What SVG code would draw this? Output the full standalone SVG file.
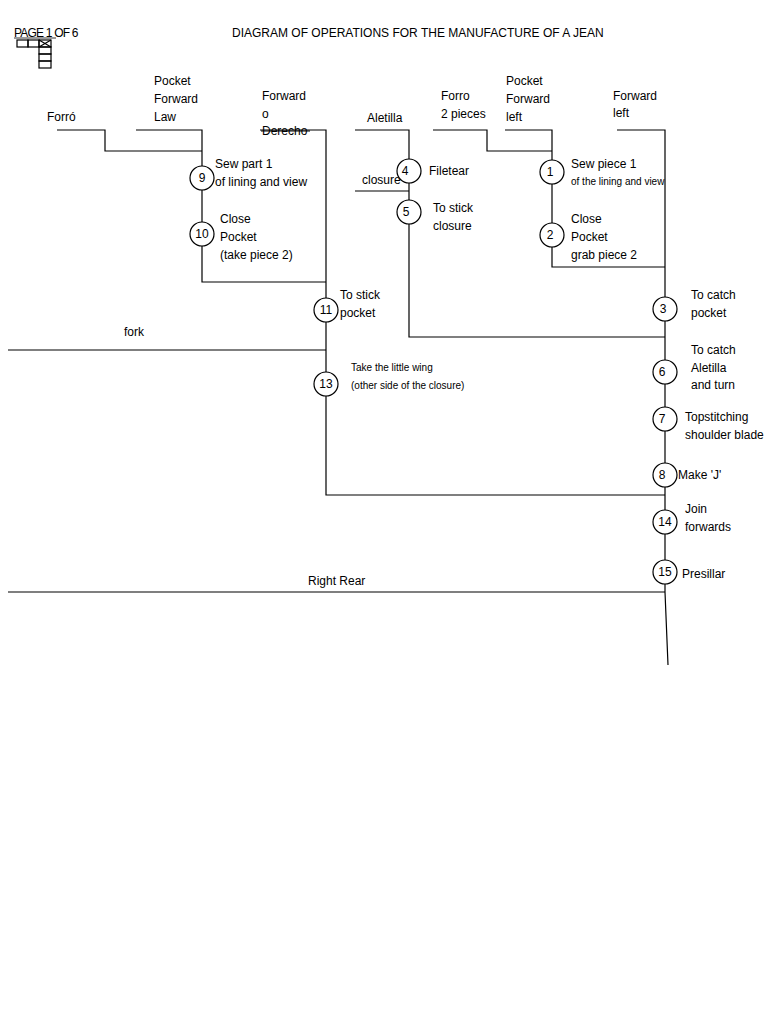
<svg xmlns="http://www.w3.org/2000/svg" width="768" height="1024" viewBox="0 0 768 1024">
<style>
text{font-family:"Liberation Sans",Arial,sans-serif;font-size:12px;fill:#000}
.s{font-size:10px}
.l{fill:none;stroke:#000;stroke-width:1.2}
circle{fill:#fff;stroke:#000;stroke-width:1.2}
.n{text-anchor:middle;font-size:12px}
</style>
<rect width="768" height="1024" fill="#fff"/>
<text x="14" y="37" style="font-size:12px;letter-spacing:-0.8px">PAGE 1 OF 6</text>
<line x1="14" y1="38" x2="56" y2="38" stroke="#000" stroke-width="0.8"/>
<text x="232" y="37">DIAGRAM OF OPERATIONS FOR THE MANUFACTURE OF A JEAN</text>
<g class="l" stroke-width="1">
<rect x="17" y="40" width="11" height="7"/><rect x="28" y="40" width="11" height="7"/><rect x="39" y="40" width="12" height="7"/>
<path d="M39 40L51 47M51 40L39 47"/>
<rect x="39" y="47" width="12" height="7"/><rect x="39" y="54" width="12" height="7"/><rect x="39" y="61" width="12" height="7"/>
</g>
<g id="connectors" class="l">
<path d="M57 130H105V151H202"/>
<path d="M136 130H202V282H326"/>
<path d="M260 130H326V495H665"/>
<path d="M8 350H326"/>
<path d="M355 130H409V337H665"/>
<path d="M355 191H409"/>
<path d="M433 130H487V151H552"/>
<path d="M505 130H552V267H665"/>
<path d="M617 130H665V592L668 665"/>
<path d="M8 592H665"/>
</g>
<g id="labels">
<text x="47" y="121">Forró</text>
<text x="154" y="85">Pocket</text><text x="154" y="103">Forward</text><text x="154" y="121">Law</text>
<text x="262" y="100">Forward</text><text x="262" y="118">o</text><text x="262" y="135">Derecho</text>
<line x1="261" y1="131" x2="310" y2="131" stroke="#000" stroke-width="1"/>
<text x="367" y="122">Aletilla</text>
<text x="441" y="100">Forro</text><text x="441" y="118">2 pieces</text>
<text x="506" y="85">Pocket</text><text x="506" y="103">Forward</text><text x="506" y="121">left</text>
<text x="613" y="100">Forward</text><text x="613" y="117">left</text>
<text x="124" y="336">fork</text>
<text x="308" y="585">Right Rear</text>
</g>
<g id="n9"><circle cx="202" cy="178" r="12"/><text class="n" x="202" y="182">9</text><text x="215" y="168">Sew part 1</text><text x="215" y="186">of lining and view</text></g>
<g id="n10"><circle cx="202" cy="234" r="12"/><text class="n" x="202" y="238">10</text><text x="220" y="223">Close</text><text x="220" y="241">Pocket</text><text x="220" y="259">(take piece 2)</text></g>
<g id="n11"><circle cx="326" cy="310" r="12"/><text class="n" x="326" y="314">11</text><text x="340" y="299">To stick</text><text x="340" y="317">pocket</text></g>
<g id="n13"><circle cx="326" cy="384" r="12"/><text class="n" x="326" y="388">13</text><text class="s" x="351" y="371">Take the little wing</text><text class="s" x="351" y="389">(other side of the closure)</text></g>
<g id="n4"><text x="362" y="184">closure</text><circle cx="409" cy="171" r="12"/><text class="n" x="405" y="175">4</text><text x="429" y="175">Filetear</text></g>
<g id="n5"><circle cx="409" cy="212" r="12"/><text class="n" x="406" y="216">5</text><text x="433" y="212">To stick</text><text x="433" y="230">closure</text></g>
<g id="n1"><circle cx="552" cy="172" r="12"/><text class="n" x="550" y="176">1</text><text x="571" y="168">Sew piece 1</text><text class="s" x="571" y="185">of the lining and view</text></g>
<g id="n2"><circle cx="552" cy="235" r="12"/><text class="n" x="550" y="239">2</text><text x="571" y="223">Close</text><text x="571" y="241">Pocket</text><text x="571" y="259">grab piece 2</text></g>
<g id="n3"><circle cx="665" cy="309" r="12"/><text class="n" x="663" y="313">3</text><text x="691" y="299">To catch</text><text x="691" y="317">pocket</text></g>
<g id="n6"><circle cx="665" cy="372" r="12"/><text class="n" x="662" y="376">6</text><text x="691" y="354">To catch</text><text x="691" y="372">Aletilla</text><text x="691" y="389">and turn</text></g>
<g id="n7"><circle cx="665" cy="419" r="12"/><text class="n" x="662" y="423">7</text><text x="685" y="421">Topstitching</text><text x="685" y="439">shoulder blade</text></g>
<g id="n8"><circle cx="665" cy="475" r="12"/><text class="n" x="662" y="479">8</text><text x="678" y="479">Make 'J'</text></g>
<g id="n14"><circle cx="665" cy="522" r="12"/><text class="n" x="665" y="526">14</text><text x="685" y="513">Join</text><text x="685" y="531">forwards</text></g>
<g id="n15"><circle cx="665" cy="572" r="12"/><text class="n" x="665" y="576">15</text><text x="682" y="578">Presillar</text></g>
</svg>
